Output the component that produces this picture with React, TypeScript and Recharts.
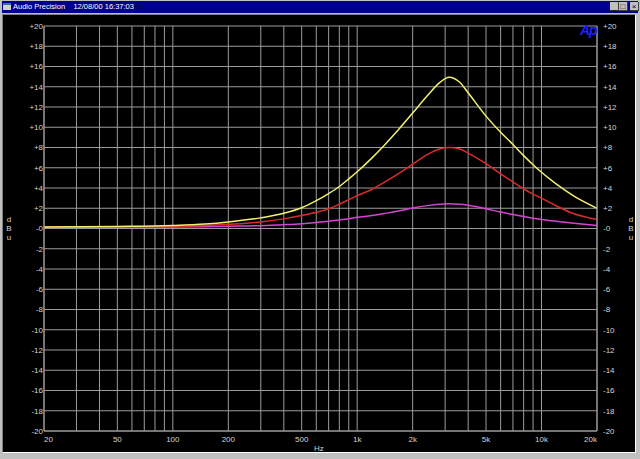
import React from "react";
import { LineChart, Line, XAxis, YAxis, CartesianGrid } from "recharts";

// ─── Readings taken off the Audio Precision sweep (Hz → dBu) ──────────────────
const FREQS = [
  20, 50, 100, 150, 200, 300, 400, 500, 600, 700, 800, 900, 1000, 1200, 1400,
  1700, 2000, 2400, 2800, 3150, 3600, 4000, 5000, 6000, 7000, 8000, 9000,
  10000, 12000, 15000, 20000,
];

const YELLOW = [
  0.15, 0.2, 0.3, 0.45, 0.65, 1.05, 1.5, 2.05, 2.75, 3.45, 4.15, 4.9, 5.6,
  6.95, 8.2, 9.9, 11.4, 13.1, 14.4, 14.95, 14.45, 13.4, 11.1, 9.5, 8.3, 7.2,
  6.3, 5.55, 4.4, 3.2, 2.0,
];

const RED = [
  0.12, 0.14, 0.2, 0.3, 0.42, 0.65, 0.95, 1.28, 1.6, 1.95, 2.4, 2.85, 3.25,
  3.85, 4.55, 5.5, 6.35, 7.3, 7.85, 8.0, 7.85, 7.45, 6.4, 5.4, 4.6, 3.9, 3.4,
  3.0, 2.25, 1.45, 0.9,
];

const MAGENTA = [
  0.12, 0.13, 0.15, 0.18, 0.22, 0.28, 0.38, 0.48, 0.6, 0.72, 0.85, 0.97, 1.1,
  1.28, 1.48, 1.75, 2.02, 2.26, 2.4, 2.44, 2.4, 2.3, 1.95, 1.62, 1.38, 1.18,
  1.02, 0.9, 0.72, 0.52, 0.3,
];

// vertical grid: every 1-2-..-9 step per decade
const X_GRID = [
  20, 30, 40, 50, 60, 70, 80, 90, 100, 200, 300, 400, 500, 600, 700, 800, 900,
  1000, 2000, 3000, 4000, 5000, 6000, 7000, 8000, 9000, 10000, 20000,
];

const X_LABELS: Record<number, string> = {
  20: "20", 50: "50", 100: "100", 200: "200", 500: "500",
  1000: "1k", 2000: "2k", 5000: "5k", 10000: "10k", 20000: "20k",
};

const Y_MAJOR = [
  -20, -18, -16, -14, -12, -10, -8, -6, -4, -2, 0, 2, 4, 6, 8, 10, 12, 14, 16,
  18, 20,
];

const Y_MINOR = Array.from({ length: 81 }, (_, i) => -20 + i * 0.5);

const GRID = "#9c9c9c";
const LABEL = "#d4d4d4";
const FONT = "'Liberation Sans', Arial, sans-serif";

const fmtDb = (v: number) => (v > 0 ? `+${v}` : v === 0 ? "-0" : `${v}`);

const XTick = ({ x, y, payload }: any) => {
  const label = X_LABELS[payload.value];
  if (!label) return <g />;
  const anchor = payload.value === 20 ? "start" : payload.value === 20000 ? "end" : "middle";
  return (
    <text x={x} y={y + 9} textAnchor={anchor} fill={LABEL} fontSize={8} fontFamily={FONT}>
      {label}
    </text>
  );
};

const NoLabel = () => <g />;

export default function App() {
  const data = FREQS.map((f, i) => ({
    f,
    yellow: YELLOW[i],
    red: RED[i],
    magenta: MAGENTA[i],
  }));

  const tickStyle = { fill: LABEL, fontSize: 8, fontFamily: FONT };

  return (
    <div
      style={{
        position: "absolute", left: 0, top: 0, width: 640, height: 459,
        background: "#c0c0c0", fontFamily: FONT, overflow: "hidden",
      }}
    >
      {/* title bar */}
      <div
        style={{
          position: "absolute", left: 2, top: 1, width: 636, height: 12,
          background: "#00008c", color: "#fff", fontSize: 7.5, lineHeight: "12px",
          whiteSpace: "pre",
        }}
      >
        <span
          style={{
            position: "absolute", left: 1, top: 2, width: 8, height: 7,
            background: "#d0d0d0", borderTop: "2px solid #3a6ea5",
            boxSizing: "border-box",
          }}
        />
        <span style={{ position: "absolute", left: 11, top: 0 }}>
          {"Audio Precision    12/08/00 16:37:03"}
        </span>
        {["_", "□", "×"].map((c, i) => (
          <span
            key={c}
            style={{
              position: "absolute", left: 608 + i * 9 + (i === 2 ? 2 : 0), top: 1,
              width: 9, height: 9, background: "#c0c0c0", color: "#000",
              fontSize: 8, lineHeight: "9px", textAlign: "center",
              borderRight: "1px solid #404040", borderBottom: "1px solid #404040",
              boxSizing: "border-box",
            }}
          >
            {c}
          </span>
        ))}
      </div>

      {/* black client area */}
      <div
        style={{
          position: "absolute", left: 2, top: 14, width: 634, height: 439,
          background: "#000", borderTop: "1px solid #808080",
          borderLeft: "1px solid #808080", borderRight: "1px solid #fff",
          borderBottom: "1px solid #fff", boxSizing: "border-box",
        }}
      />

      <div style={{ position: "absolute", left: 0, top: 0 }}>
        <LineChart
          width={640}
          height={459}
          data={data}
          margin={{ top: 26, right: 3, bottom: 8, left: 4 }}
        >
          <CartesianGrid
            stroke={GRID}
            strokeWidth={1}
            yAxisId="l"
            fill="none"
          />
          <XAxis
            dataKey="f"
            type="number"
            scale="log"
            domain={[20, 20000]}
            ticks={X_GRID}
            interval={0}
            allowDataOverflow
            height={20}
            tickSize={0}
            tickLine={false}
            axisLine={{ stroke: GRID }}
            tick={<XTick />}
          />
          <YAxis
            yAxisId="l"
            type="number"
            domain={[-20, 20]}
            ticks={Y_MAJOR}
            interval={0}
            allowDataOverflow
            width={40}
            tickSize={0}
            tickMargin={1}
            tickLine={false}
            axisLine={{ stroke: GRID }}
            tick={tickStyle}
            tickFormatter={fmtDb}
          />
          <YAxis
            yAxisId="lm"
            type="number"
            domain={[-20, 20]}
            ticks={Y_MINOR}
            interval={0}
            allowDataOverflow
            width={0}
            mirror
            tickSize={3}
            tickLine={{ stroke: GRID }}
            axisLine={false}
            tick={<NoLabel />}
          />
          <YAxis
            yAxisId="r"
            orientation="right"
            type="number"
            domain={[-20, 20]}
            ticks={Y_MAJOR}
            interval={0}
            allowDataOverflow
            width={40}
            tickSize={0}
            tickMargin={6}
            tickLine={false}
            axisLine={{ stroke: GRID }}
            tick={tickStyle}
            tickFormatter={fmtDb}
          />
          <YAxis
            yAxisId="rm"
            orientation="right"
            type="number"
            domain={[-20, 20]}
            ticks={Y_MINOR}
            interval={0}
            allowDataOverflow
            width={0}
            tickSize={3}
            tickLine={{ stroke: GRID }}
            axisLine={false}
            tick={<NoLabel />}
          />
          <Line yAxisId="l" dataKey="magenta" type="monotone" stroke="#d444d4" strokeWidth={1.5} dot={false} isAnimationActive={false} />
          <Line yAxisId="l" dataKey="red" type="monotone" stroke="#dc2a2a" strokeWidth={1.5} dot={false} isAnimationActive={false} />
          <Line yAxisId="l" dataKey="yellow" type="monotone" stroke="#f2f070" strokeWidth={1.5} dot={false} isAnimationActive={false} />
        </LineChart>
      </div>

      {/* Ap logo */}
      <div
        style={{
          position: "absolute", left: 580, top: 22, color: "#1f1fff",
          fontSize: 14, fontWeight: "bold", fontStyle: "italic", letterSpacing: -1,
        }}
      >
        Ap
      </div>

      {/* axis titles */}
      {[6, 628].map((left) => (
        <div
          key={left}
          style={{
            position: "absolute", left, top: 215, width: 6, color: LABEL,
            fontSize: 8, lineHeight: "9px", textAlign: "center",
          }}
        >
          d<br />B<br />u
        </div>
      ))}
      <div style={{ position: "absolute", left: 314, top: 444, color: LABEL, fontSize: 8 }}>
        Hz
      </div>
    </div>
  );
}
